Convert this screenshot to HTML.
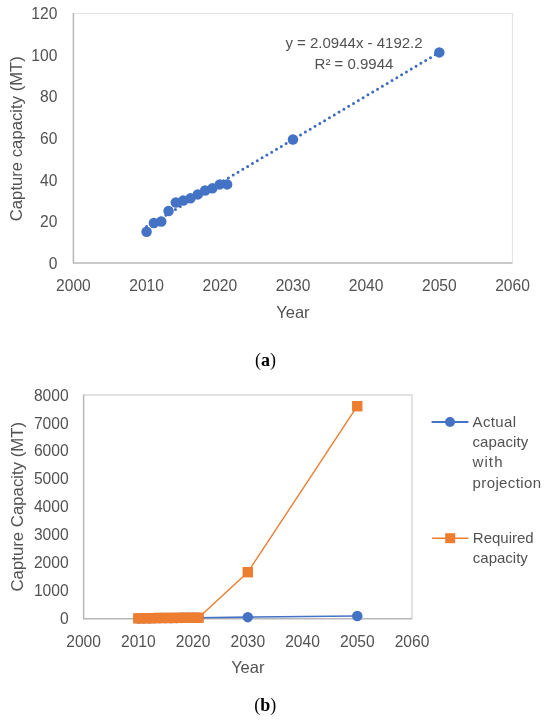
<!DOCTYPE html>
<html><head><meta charset="utf-8"><title>Capture capacity charts</title>
<style>html,body{margin:0;padding:0;background:#fff;}body{width:550px;height:722px;overflow:hidden;}svg{display:block;}</style>
</head><body>
<svg width="550" height="722" viewBox="0 0 550 722">
<path d="M73.4 13.5H512.5V263.0" fill="none" stroke="#E4E4E4" stroke-width="1.2"/>
<path d="M73.4 12.9V263.0H512.5" fill="none" stroke="#B8B8B8" stroke-width="1.5"/>
<g font-family="Liberation Sans, sans-serif" font-size="15.6" fill="#525252" text-anchor="end">
<text transform="translate(57.4 268.7)">0</text>
<text transform="translate(57.4 227.1)">20</text>
<text transform="translate(57.4 185.5)">40</text>
<text transform="translate(57.4 143.9)">60</text>
<text transform="translate(57.4 102.4)">80</text>
<text transform="translate(57.4 60.8)">100</text>
<text transform="translate(57.4 19.2)">120</text>
</g>
<g font-family="Liberation Sans, sans-serif" font-size="15.6" fill="#525252" text-anchor="middle">
<text transform="translate(73.4 290.5)">2000</text>
<text transform="translate(146.6 290.5)">2010</text>
<text transform="translate(219.8 290.5)">2020</text>
<text transform="translate(293.0 290.5)">2030</text>
<text transform="translate(366.1 290.5)">2040</text>
<text transform="translate(439.3 290.5)">2050</text>
<text transform="translate(512.5 290.5)">2060</text>
</g>
<text font-family="Liberation Sans, sans-serif" font-size="16.5" fill="#525252" text-anchor="middle" x="292.9" y="317.8">Year</text>
<text font-family="Liberation Sans, sans-serif" font-size="16.7" fill="#525252" text-anchor="middle" transform="translate(21.6 138.7) rotate(-90)">Capture capacity (MT)</text>
<line x1="146.58" y1="226.61" x2="439.32" y2="52.38" stroke="#3D6BC2" stroke-width="3" stroke-linecap="round" stroke-dasharray="0 5.6"/>
<g fill="#4472C4">
<circle cx="146.58" cy="231.81" r="5.25"/>
<circle cx="153.90" cy="223.08" r="5.25"/>
<circle cx="161.22" cy="221.42" r="5.25"/>
<circle cx="168.54" cy="211.02" r="5.25"/>
<circle cx="175.86" cy="202.50" r="5.25"/>
<circle cx="183.18" cy="200.62" r="5.25"/>
<circle cx="190.49" cy="198.34" r="5.25"/>
<circle cx="197.81" cy="194.39" r="5.25"/>
<circle cx="205.13" cy="190.44" r="5.25"/>
<circle cx="212.45" cy="188.36" r="5.25"/>
<circle cx="219.77" cy="184.41" r="5.25"/>
<circle cx="227.09" cy="184.41" r="5.25"/>
<circle cx="292.95" cy="139.50" r="5.25"/>
<circle cx="439.32" cy="52.38" r="5.25"/>
</g>
<g font-family="Liberation Sans, sans-serif" font-size="15" fill="#525252" text-anchor="middle">
<text x="354" y="47.6">y = 2.0944x - 4192.2</text>
<text x="354" y="68.5">R² = 0.9944</text>
</g>
<text font-family="Liberation Serif, serif" font-size="18" fill="#000" text-anchor="middle" x="265.5" y="365.5">(<tspan font-weight="bold">a</tspan>)</text>
<path d="M83.6 395.0H412.0V618.8" fill="none" stroke="#D9D9D9" stroke-width="1.5"/>
<path d="M83.6 394.4V618.8H412.0" fill="none" stroke="#B8B8B8" stroke-width="1.5"/>
<g font-family="Liberation Sans, sans-serif" font-size="15.6" fill="#525252" text-anchor="end">
<text transform="translate(68.6 624.3)">0</text>
<text transform="translate(68.6 596.3)">1000</text>
<text transform="translate(68.6 568.3)">2000</text>
<text transform="translate(68.6 540.4)">3000</text>
<text transform="translate(68.6 512.4)">4000</text>
<text transform="translate(68.6 484.4)">5000</text>
<text transform="translate(68.6 456.4)">6000</text>
<text transform="translate(68.6 428.5)">7000</text>
<text transform="translate(68.6 400.5)">8000</text>
</g>
<g font-family="Liberation Sans, sans-serif" font-size="15.6" fill="#525252" text-anchor="middle">
<text transform="translate(83.6 646.5)">2000</text>
<text transform="translate(138.3 646.5)">2010</text>
<text transform="translate(193.1 646.5)">2020</text>
<text transform="translate(247.8 646.5)">2030</text>
<text transform="translate(302.5 646.5)">2040</text>
<text transform="translate(357.3 646.5)">2050</text>
<text transform="translate(412.0 646.5)">2060</text>
</g>
<text font-family="Liberation Sans, sans-serif" font-size="16.5" fill="#525252" text-anchor="middle" x="247.8" y="673">Year</text>
<text font-family="Liberation Sans, sans-serif" font-size="16.8" fill="#525252" text-anchor="middle" transform="translate(23.3 506.7) rotate(-90)">Capture Capacity (MT)</text>
<polyline points="138.33,618.38 143.81,618.26 149.28,618.24 154.75,618.10 160.23,617.99 165.70,617.96 171.17,617.93 176.65,617.88 182.12,617.82 187.59,617.80 193.07,617.74 198.54,617.74 247.80,617.14 357.27,615.97" fill="none" stroke="#4472C4" stroke-width="1.6" stroke-linejoin="round"/>
<g fill="#4472C4">
<circle cx="138.33" cy="618.38" r="5.25"/>
<circle cx="143.81" cy="618.26" r="5.25"/>
<circle cx="149.28" cy="618.24" r="5.25"/>
<circle cx="154.75" cy="618.10" r="5.25"/>
<circle cx="160.23" cy="617.99" r="5.25"/>
<circle cx="165.70" cy="617.96" r="5.25"/>
<circle cx="171.17" cy="617.93" r="5.25"/>
<circle cx="176.65" cy="617.88" r="5.25"/>
<circle cx="182.12" cy="617.82" r="5.25"/>
<circle cx="187.59" cy="617.80" r="5.25"/>
<circle cx="193.07" cy="617.74" r="5.25"/>
<circle cx="198.54" cy="617.74" r="5.25"/>
<circle cx="247.80" cy="617.14" r="5.25"/>
<circle cx="357.27" cy="615.97" r="5.25"/>
</g>
<polyline points="138.33,618.38 143.81,618.26 149.28,618.24 154.75,618.10 160.23,617.99 165.70,617.96 171.17,617.93 176.65,617.88 182.12,617.82 187.59,617.80 193.07,617.74 198.54,617.74 247.80,572.22 357.27,406.19" fill="none" stroke="#ED7D31" stroke-width="1.4" stroke-linejoin="round"/>
<g fill="#ED7D31">
<rect x="133.13" y="613.18" width="10.4" height="10.4"/>
<rect x="138.61" y="613.06" width="10.4" height="10.4"/>
<rect x="144.08" y="613.04" width="10.4" height="10.4"/>
<rect x="149.55" y="612.90" width="10.4" height="10.4"/>
<rect x="155.03" y="612.79" width="10.4" height="10.4"/>
<rect x="160.50" y="612.76" width="10.4" height="10.4"/>
<rect x="165.97" y="612.73" width="10.4" height="10.4"/>
<rect x="171.45" y="612.68" width="10.4" height="10.4"/>
<rect x="176.92" y="612.62" width="10.4" height="10.4"/>
<rect x="182.39" y="612.60" width="10.4" height="10.4"/>
<rect x="187.87" y="612.54" width="10.4" height="10.4"/>
<rect x="193.34" y="612.54" width="10.4" height="10.4"/>
<rect x="242.60" y="567.02" width="10.4" height="10.4"/>
<rect x="352.07" y="400.99" width="10.4" height="10.4"/>
</g>
<line x1="431.6" y1="422" x2="468.4" y2="422" stroke="#4472C4" stroke-width="1.8"/>
<circle cx="450" cy="422" r="5" fill="#4472C4"/>
<line x1="432" y1="538.2" x2="468.4" y2="538.2" stroke="#ED7D31" stroke-width="1.6"/>
<rect x="445.2" y="533.2" width="10" height="10" fill="#ED7D31"/>
<g font-family="Liberation Sans, sans-serif" font-size="15" fill="#525252">
<text x="472.5" y="426.6" letter-spacing="0.4">Actual</text>
<text x="472.5" y="446.9" letter-spacing="0.1">capacity</text>
<text x="472.5" y="467.2" letter-spacing="1.1">with</text>
<text x="472.5" y="487.5" letter-spacing="0.4">projection</text>
<text x="472.8" y="542.6">Required</text>
<text x="472.8" y="562.9">capacity</text>
</g>
<text font-family="Liberation Serif, serif" font-size="18" fill="#000" text-anchor="middle" x="265.3" y="711">(<tspan font-weight="bold">b</tspan>)</text>
</svg>
</body></html>
